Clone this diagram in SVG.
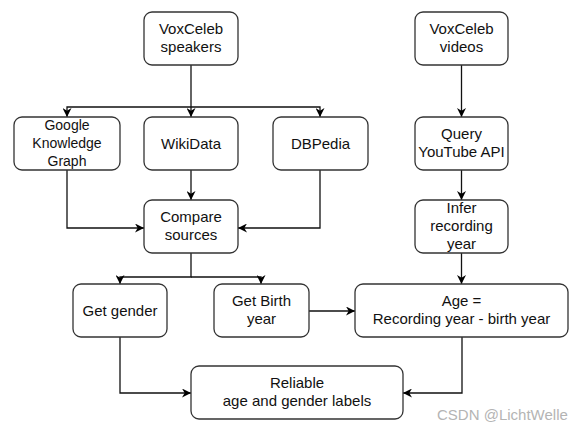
<svg xmlns="http://www.w3.org/2000/svg" width="584" height="430" viewBox="0 0 584 430">
<defs>
<marker id="arr" viewBox="0 0 10 10" refX="10" refY="5" markerWidth="9" markerHeight="9" markerUnits="userSpaceOnUse" orient="auto">
<path d="M0,0 L10,5 L0,10 L3,5 z" fill="#000"/>
</marker>
<style>
.box{fill:#fff;stroke:#333;stroke-width:1.3}
.t{font-family:"Liberation Sans",Arial,sans-serif;font-size:15px;fill:#111;text-anchor:middle}
.s{font-size:14px}
.c{fill:none;stroke:#111;stroke-width:1.3;marker-end:url(#arr)}
.w{font-family:"Liberation Sans",Arial,sans-serif;font-size:15px;fill:#b4b4b4}
</style>
</defs>
<rect width="584" height="430" fill="#fff"/>
<g id="connectors">
<path class="c" d="M191,65 V117"/>
<path class="c" d="M191,107 H67 V117"/>
<path class="c" d="M191,107 H320 V117"/>
<path class="c" d="M67,170 V228 H144"/>
<path class="c" d="M191,170 V200"/>
<path class="c" d="M320,170 V228 H238"/>
<path class="c" d="M191,253 V277 H120 V284"/>
<path class="c" d="M191,277 H261 V284"/>
<path class="c" d="M461.5,65 V117"/>
<path class="c" d="M461.5,170 V200"/>
<path class="c" d="M461.5,253 V284"/>
<path class="c" d="M309,311 H355"/>
<path class="c" d="M120,337 V393 H191"/>
<path class="c" d="M462,337 V393 H403"/>
</g>
<g id="speakers"><rect class="box" x="144" y="12" width="94" height="53" rx="8"/><text class="t" x="191" y="34">VoxCeleb</text><text class="t" x="191" y="52">speakers</text></g>
<g id="gkg"><rect class="box" x="14" y="117" width="106" height="53" rx="8"/><text class="t s" x="67" y="130">Google</text><text class="t s" x="67" y="148">Knowledge</text><text class="t s" x="67" y="166">Graph</text></g>
<g id="wikidata"><rect class="box" x="144" y="117" width="94" height="53" rx="8"/><text class="t" x="191" y="149">WikiData</text></g>
<g id="dbpedia"><rect class="box" x="273" y="117" width="95" height="53" rx="8"/><text class="t" x="320.5" y="149">DBPedia</text></g>
<g id="compare"><rect class="box" x="144" y="200" width="94" height="53" rx="8"/><text class="t" x="191" y="222">Compare</text><text class="t" x="191" y="240">sources</text></g>
<g id="videos"><rect class="box" x="415" y="12" width="93" height="53" rx="8"/><text class="t" x="461.5" y="34">VoxCeleb</text><text class="t" x="461.5" y="52">videos</text></g>
<g id="youtube"><rect class="box" x="415" y="117" width="93" height="53" rx="8"/><text class="t" x="461.5" y="139">Query</text><text class="t" x="461.5" y="157">YouTube API</text></g>
<g id="infer"><rect class="box" x="415" y="200" width="93" height="53" rx="8"/><text class="t" x="461.5" y="213">Infer</text><text class="t" x="461.5" y="231">recording</text><text class="t" x="461.5" y="249">year</text></g>
<g id="gender"><rect class="box" x="73" y="284" width="94" height="53" rx="8"/><text class="t" x="120" y="316">Get gender</text></g>
<g id="birth"><rect class="box" x="214" y="284" width="95" height="53" rx="8"/><text class="t" x="261.5" y="306">Get Birth</text><text class="t" x="261.5" y="324">year</text></g>
<g id="age"><rect class="box" x="355" y="284" width="213" height="53" rx="8"/><text class="t" x="461.5" y="306">Age =</text><text class="t" x="461.5" y="324">Recording year - birth year</text></g>
<g id="reliable"><rect class="box" x="191" y="366" width="212" height="53" rx="8"/><text class="t" x="297" y="388">Reliable</text><text class="t" x="297" y="406">age and gender labels</text></g>
<text class="w" x="437" y="420">CSDN @LichtWelle</text>
</svg>
